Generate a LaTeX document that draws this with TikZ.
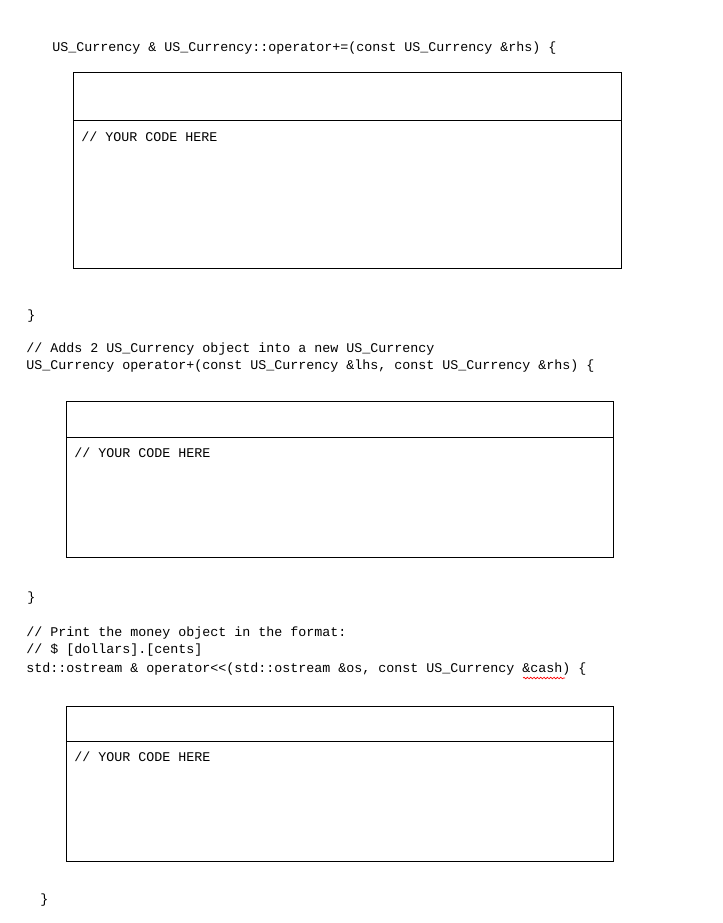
\documentclass[tikz,border=0pt]{standalone}
\usepackage{fontspec}
\setmonofont{Liberation Mono}
\usetikzlibrary{decorations.pathmorphing}
\begin{document}
\begin{tikzpicture}[x=0.75pt,y=-0.75pt,
  code/.style={anchor=west,inner sep=0pt,font=\fontsize{10pt}{12pt}\ttfamily},
  box/.style={draw,line width=0.75pt}]
\useasboundingbox (0,0) rectangle (723,923);
\fill[white] (0,0) rectangle (723,923);
\node[code] (t1) at (52,48) {US\_Currency \& US\_Currency::operator+=(const US\_Currency \&rhs) \{};
\draw[box] (73,73) rectangle (621,269);
\draw[box] (73,121) -- (621,121);
\node[code] (c1) at (81,137) {// YOUR CODE HERE};
\node[code] (b1) at (27,316) {\}};
\node[code] (t2) at (26,349) {// Adds 2 US\_Currency object into a new US\_Currency};
\node[code] (t3) at (26,366) {US\_Currency operator+(const US\_Currency \&lhs, const US\_Currency \&rhs) \{};
\draw[box] (66,401) rectangle (613,557);
\draw[box] (66,437) -- (613,437);
\node[code] (c2) at (74,453) {// YOUR CODE HERE};
\node[code] (b2) at (27,598) {\}};
\node[code] (t4) at (26,633) {// Print the money object in the format:};
\node[code] (t5) at (26,650) {// \$ [dollars].[cents]};
\node[code] (t6) at (26,669) {std::ostream \& operator<{}<(std::ostream \&os, const US\_Currency \&cash) \{};
\draw[red,line width=0.5pt,decorate,decoration={snake,amplitude=0.6pt,segment length=2.5pt}] (523,678) -- (565,678);
\draw[box] (66,706) rectangle (613,861);
\draw[box] (66,741) -- (613,741);
\node[code] (c3) at (74,757) {// YOUR CODE HERE};
\node[code] (b3) at (40,900) {\}};
\end{tikzpicture}
\end{document}
